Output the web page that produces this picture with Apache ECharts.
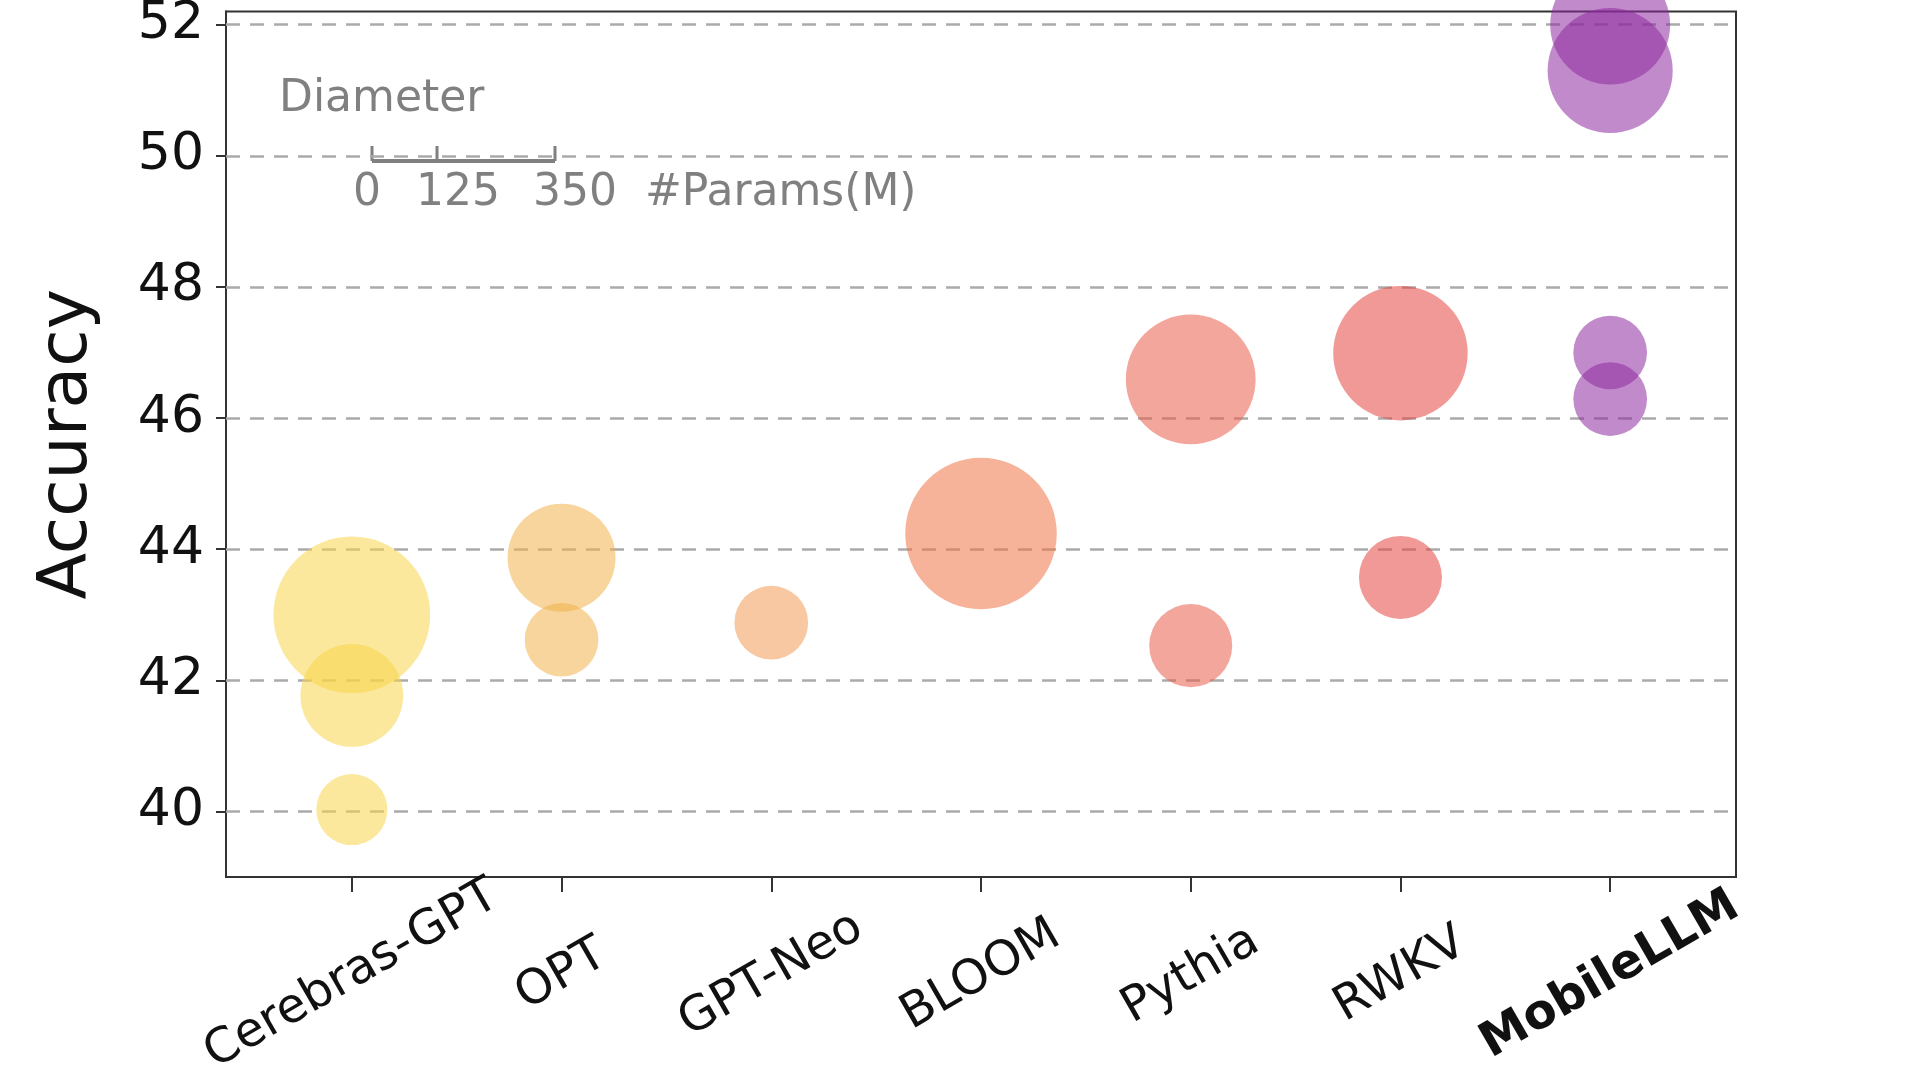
<!DOCTYPE html>
<html><head><meta charset="utf-8">
<script src="https://cdn.jsdelivr.net/npm/echarts@6/dist/echarts.min.js"></script>
<style>html,body{margin:0;padding:0;background:#fff}#c{width:1920px;height:1080px}</style>
</head><body><div id="c"></div>
<script>
const categories = ["Cerebras-GPT","OPT","GPT-Neo","BLOOM","Pythia","RWKV","MobileLLM"];
const colors = ["#f7d54a","#f0b24a","#f39a55","#ee7447","#ea5f4a","#e4463f","#8e2a9e"];
// [categoryIndex, accuracy, diameter-params(M)]
const modelPoints = [
  [[0,43.0,302],[0,41.77,198],[0,40.03,137]],
  [[1,43.87,208],[1,42.62,142]],
  [[2,42.88,142]],
  [[3,44.24,292]],
  [[4,46.59,250],[4,42.53,160]],
  [[5,46.99,259],[5,43.57,160]],
  [[6,52.0,231],[6,51.3,241],[6,47.0,142],[6,46.29,142]]
];
const yTicks = [40,42,44,46,48,50,52];
const pxPerM = 0.519;
const chart = echarts.init(document.getElementById('c'));
const series = modelPoints.map((pts,i)=>({
  type:'scatter', name:categories[i], data:pts,
  symbolSize: d=>d[2]*pxPerM,
  itemStyle:{color:colors[i], opacity:0.55},
  z:3,
  markLine: i===0 ? {silent:true, symbol:'none', label:{show:false},
    lineStyle:{type:[14,10], color:'#aaaaaa', width:2.5},
    data: yTicks.map(v=>({yAxis:v})), z:1} : undefined
}));
chart.setOption({
  animation:false,
  grid:{left:226, right:184, top:0, bottom:113, show:true, borderColor:'#333', borderWidth:2},
  xAxis:{type:'value', min:-0.6, max:6.6, interval:1,
    splitLine:{show:false},
    axisLine:{onZero:false, lineStyle:{color:'#333',width:2}},
    axisTick:{length:15, lineStyle:{color:'#333',width:2}, customValues:[0,1,2,3,4,5,6]},
    axisLabel:{customValues:[0,1,2,3,4,5,6], rotate:30, align:'center', verticalAlign:'middle',
      fontSize:48, color:'#111', margin:98, fontFamily:'DejaVu Sans',
      formatter:v=>{const n=categories[Math.round(v)]; return n==='MobileLLM'?'{b|'+n+'}':n;},
      rich:{b:{fontWeight:'bold', fontSize:48, fontFamily:'DejaVu Sans'}}}},
  yAxis:{type:'value', min:39, max:52.2, interval:1,
    name:'Accuracy', nameLocation:'middle', nameGap:124,
    nameTextStyle:{fontSize:68, color:'#111', fontFamily:'DejaVu Sans'},
    splitLine:{show:false},
    axisLine:{show:true, onZero:false, lineStyle:{color:'#333',width:2}},
    axisTick:{show:true, length:10, lineStyle:{color:'#333',width:2}, customValues:yTicks},
    axisLabel:{customValues:yTicks, fontSize:52, color:'#111', margin:22, fontFamily:'DejaVu Sans'}},
  graphic:[
    {type:'text', left:279, top:78, style:{text:'Diameter', fontSize:44, fill:'#808080', fontFamily:'DejaVu Sans'}},
    {type:'line', shape:{x1:372,y1:161,x2:555,y2:161}, style:{stroke:'#808080', lineWidth:4}},
    {type:'line', shape:{x1:372,y1:146,x2:372,y2:161}, style:{stroke:'#808080', lineWidth:3}},
    {type:'line', shape:{x1:437,y1:146,x2:437,y2:161}, style:{stroke:'#808080', lineWidth:3}},
    {type:'line', shape:{x1:555,y1:146,x2:555,y2:161}, style:{stroke:'#808080', lineWidth:3}},
    {type:'text', left:353, top:172, style:{text:'0', fontSize:44, fill:'#808080', fontFamily:'DejaVu Sans'}},
    {type:'text', left:416, top:172, style:{text:'125', fontSize:44, fill:'#808080', fontFamily:'DejaVu Sans'}},
    {type:'text', left:533, top:172, style:{text:'350', fontSize:44, fill:'#808080', fontFamily:'DejaVu Sans'}},
    {type:'text', left:645, top:172, style:{text:'#Params(M)', fontSize:44, fill:'#808080', fontFamily:'DejaVu Sans'}}
  ],
  series
});
</script></body></html>
